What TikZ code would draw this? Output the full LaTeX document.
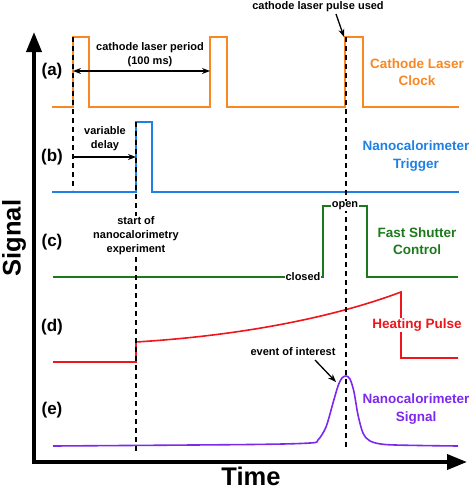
\documentclass[tikz,border=0pt]{standalone}
\usepackage{fontspec}
\setmainfont{Liberation Sans}
\usetikzlibrary{arrows.meta}

\definecolor{laser}{RGB}{247,136,36}
\definecolor{trig}{RGB}{30,128,228}
\definecolor{shut}{RGB}{28,122,28}
\definecolor{heat}{RGB}{238,22,28}
\definecolor{nano}{RGB}{124,40,238}

\begin{document}
\begin{tikzpicture}[x=1pt,y=-1pt]
\tikzstyle{every node}=[font=\bfseries\fontsize{11}{14}\selectfont,align=center,inner sep=1pt];
\tikzstyle{sig}=[line width=1.6pt,line join=miter];
\tikzstyle{guide}=[black,line width=1.5pt,dash pattern=on 5pt off 4pt];
\tikzstyle{note}=[black,line width=1.3pt,-{Stealth[length=8pt,width=6pt]}];
\tikzstyle{lbl}=[font=\bfseries\fontsize{13.5}{17.5}\selectfont];
\tikzstyle{tag}=[font=\bfseries\fontsize{17}{20}\selectfont];
\tikzstyle{big}=[font=\bfseries\fontsize{25.5}{28}\selectfont];
\useasboundingbox (0,0) rectangle (474,490);

% axes
\coordinate (top) at (34,32);
\coordinate (origin) at (34,462);
\coordinate (right) at (467,462);
\draw[line width=3.8pt,line join=miter,{Triangle[length=20pt,width=15pt]}-{Triangle[length=20pt,width=15pt]}] (top) -- (origin) -- (right);
\node[big,rotate=90] (signal) at (14,238) {Signal};
\node[big] (time) at (251,476) {Time};

% row tags
\node[tag] (a) at (52,71) {(a)};
\node[tag] (b) at (52,157) {(b)};
\node[tag] (c) at (52,242) {(c)};
\node[tag] (d) at (52,327) {(d)};
\node[tag] (e) at (52,410) {(e)};

% signals
\draw[sig,laser] (52,107) -- (73,107) -- (73,37) -- (89,37) -- (89,107) -- (210,107) -- (210,37) -- (227,37) -- (227,107)
	-- (345,107) -- (345,37) -- (363,37) -- (363,107) -- (459,107);
\draw[sig,trig] (52,192) -- (136,192) -- (136,122) -- (152,122) -- (152,192) -- (459,192);
\draw[sig,shut] (53,277) -- (323,277) -- (323,206) -- (367,206) -- (367,277) -- (458,277);
\draw[sig,heat] (53,362) -- (136,362) -- (136,342) .. controls (250,335) and (340,315) .. (401,292) -- (401,358) -- (458,358);
\draw[sig,nano] plot[smooth,tension=0.5] coordinates {(53,446) (250,444.5) (310,443) (318,440) (326,427) (333,403)
	(338,386) (342,378) (346,376) (350,379) (354,392) (358,415) (363,433) (370,441) (385,444.5) (420,445.5) (458,446)};

% guide lines
\coordinate (g1a) at (73,37);
\coordinate (g1b) at (73,190);
\coordinate (g2a) at (136,122);
\coordinate (g2b) at (136,453);
\coordinate (g3a) at (346,37);
\coordinate (g3b) at (346,448);
\draw[guide] (g1a) -- (g1b);
\draw[guide] (g2a) -- (g2b);
\draw[guide] (g3a) -- (g3b);

% notes
\node (period) at (150,55) {cathode laser period\\(100 ms)};
\coordinate (p1) at (73,71);
\coordinate (p2) at (210,71);
\draw[note,{Stealth[length=8pt,width=6pt]}-{Stealth[length=8pt,width=6pt]}] (p1) -- (p2);
\node (delay) at (105,139) {variable\\delay};
\coordinate (d1) at (73,157);
\coordinate (d2) at (136,157);
\draw[note] (d1) -- (d2);
\node[fill=white] (start) at (136,236) {start of\\nanocalorimetry\\experiment};
\node (used) at (318,7) {cathode laser pulse used};
\coordinate (u1) at (336,14);
\coordinate (u2) at (344,37);
\draw[note] (u1) -- (u2);
\node (event) at (293,352) {event of interest};
\coordinate (e1) at (315,360);
\coordinate (e2) at (336,382);
\draw[note] (e1) -- (e2);
\node[fill=white] (closed) at (303,277) {closed};
\node[fill=white] (open) at (345,206) {open};

% signal names
\node[lbl,laser] (clock) at (417,72) {Cathode Laser\\Clock};
\node[lbl,trig] (trigger) at (416,156) {Nanocalorimeter\\Trigger};
\node[lbl,shut] (shutter) at (417,241) {Fast Shutter\\Control};
\node[lbl,heat,fill=white] (heating) at (417,325) {Heating Pulse};
\node[lbl,nano] (nanosig) at (416,409) {Nanocalorimeter\\Signal};
\end{tikzpicture}
\end{document}
